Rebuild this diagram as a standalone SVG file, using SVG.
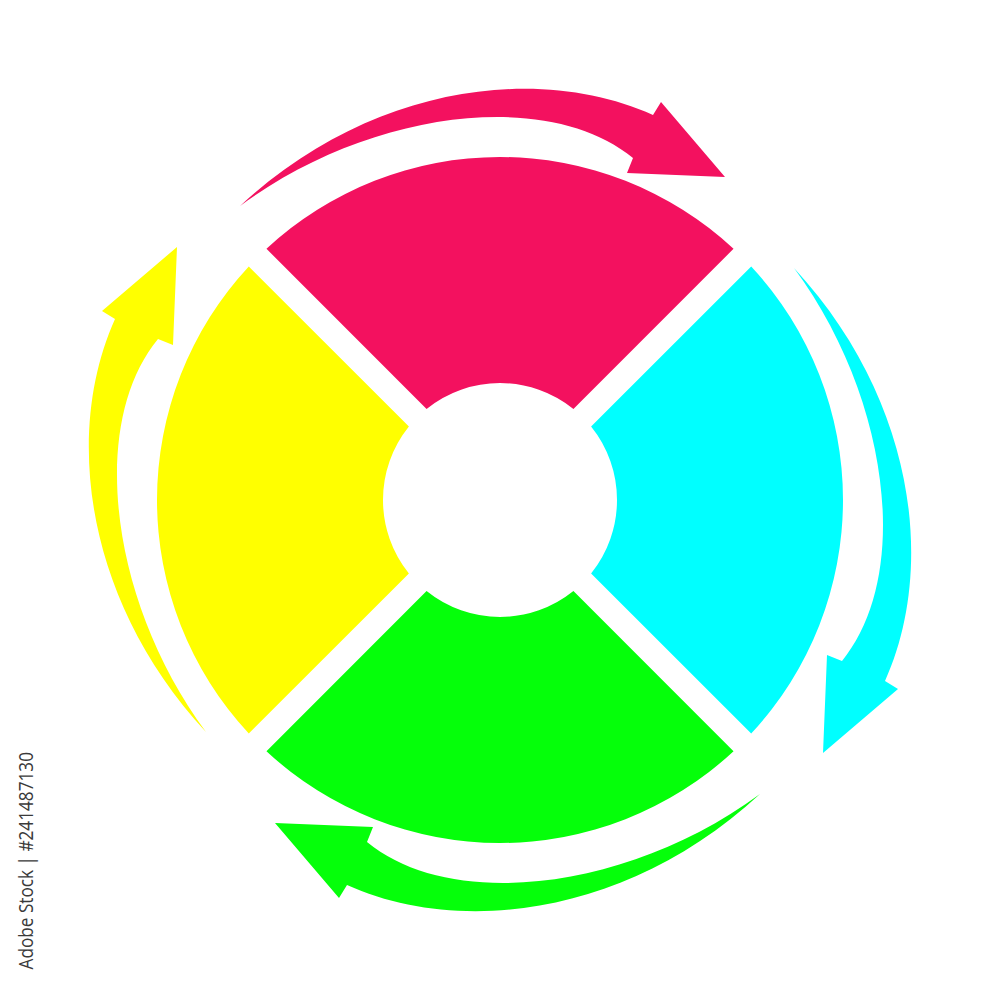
<svg xmlns="http://www.w3.org/2000/svg" width="1000" height="1000" viewBox="0 0 1000 1000">
<style>
.red{fill:#F3115F}
.cyan{fill:#00FFFF}
.green{fill:#05FF0A}
.yellow{fill:#FFFF00}
.caption{font-family:"Open Sans","Noto Sans",sans-serif;font-size:20px;fill:#3a3a3a}
</style>
<defs>
<path id="arrow" d="M 240 206 C 372 84 540 64 653 115 L 661 102 L 725 177 L 627 173 L 633 158 C 548 88 370 110 240 206 Z"/>
</defs>
<rect width="1000" height="1000" fill="#FFFFFF"/>
<g id="segment-top" class="red">
<path d="M 266.46 248.79 A 343 343 0 0 1 733.54 248.79 L 573.42 408.90 A 117 117 0 0 0 426.58 408.90 Z"/>
</g>
<g id="segment-right" class="cyan">
<path d="M 751.21 266.46 A 343 343 0 0 1 751.21 733.54 L 591.10 573.42 A 117 117 0 0 0 591.10 426.58 Z"/>
</g>
<g id="segment-bottom" class="green">
<path d="M 733.54 751.21 A 343 343 0 0 1 266.46 751.21 L 426.58 591.10 A 117 117 0 0 0 573.42 591.10 Z"/>
</g>
<g id="segment-left" class="yellow">
<path d="M 248.79 733.54 A 343 343 0 0 1 248.79 266.46 L 408.90 426.58 A 117 117 0 0 0 408.90 573.42 Z"/>
</g>
<g id="connectors">
<use href="#arrow" class="red"/>
<use href="#arrow" class="cyan" transform="translate(0,28) rotate(90 500 500)"/>
<use href="#arrow" class="green" transform="rotate(180 500 500)"/>
<use href="#arrow" class="yellow" transform="translate(0,-28) rotate(-90 500 500)"/>
</g>
<text class="caption" text-anchor="end" transform="translate(33,752) rotate(-90) scale(0.86,1)">Adobe Stock | #241487130</text>
</svg>
